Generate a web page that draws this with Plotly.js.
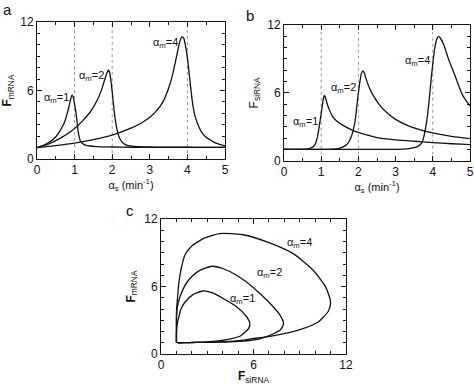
<!DOCTYPE html>
<html>
<head>
<meta charset="utf-8">
<script src="https://cdn.plot.ly/plotly-3.0.1.min.js"></script>
<style>html,body{margin:0;padding:0;background:#fff;}#chart{width:474px;height:385px;}</style>
</head>
<body>
<div id="chart"></div>
<script>
// alpha_m values (also positions of dotted reference lines)
const alphaM = [1, 2, 4];

// alpha_m = 1
const s1     = [0, 0.2, 0.4, 0.5, 0.6, 0.7, 0.75, 0.8, 0.85, 0.9, 0.93, 0.96, 1.0, 1.03, 1.06, 1.08, 1.1, 1.15, 1.2, 1.3, 1.4, 1.6, 1.8, 2.0, 2.5, 3.0, 3.5, 4.0, 4.5, 5.0, 6, 8, 12];
const mrna1  = [1.0, 1.25, 1.65, 1.95, 2.4, 3.0, 3.4, 3.95, 4.6, 5.3, 5.6, 5.45, 4.8, 4.2, 3.4, 2.8, 2.3, 1.6, 1.38, 1.2, 1.14, 1.09, 1.06, 1.05, 1.03, 1.02, 1.02, 1.01, 1.01, 1.01, 1.0, 1.0, 1.0];
const sirna1 = [1.0, 1.0, 1.0, 1.01, 1.03, 1.1, 1.18, 1.28, 1.55, 2.1, 2.7, 3.3, 4.2, 4.9, 5.5, 5.75, 5.7, 5.15, 4.65, 3.95, 3.55, 3.1, 2.75, 2.5, 2.05, 1.85, 1.72, 1.6, 1.5, 1.43, 1.3, 1.15, 1.05];

// alpha_m = 2
const s2     = [0, 0.3, 0.6, 0.9, 1.2, 1.4, 1.5, 1.6, 1.7, 1.75, 1.8, 1.85, 1.9, 1.93, 1.96, 2.0, 2.04, 2.08, 2.12, 2.16, 2.2, 2.3, 2.4, 2.6, 2.8, 3.0, 3.3, 3.6, 4.0, 4.5, 5.0, 6, 8, 12];
const mrna2  = [1.0, 1.3, 1.78, 2.4, 3.3, 4.05, 4.55, 5.15, 5.9, 6.4, 6.95, 7.45, 7.8, 7.6, 7.0, 5.9, 4.6, 3.5, 2.7, 2.15, 1.8, 1.35, 1.2, 1.1, 1.06, 1.05, 1.04, 1.03, 1.03, 1.02, 1.02, 1.01, 1.0, 1.0];
const sirna2 = [1.0, 1.0, 1.0, 1.0, 1.01, 1.05, 1.12, 1.25, 1.48, 1.7, 2.05, 2.55, 3.3, 4.0, 4.9, 6.0, 7.0, 7.7, 7.95, 7.75, 7.3, 6.4, 5.75, 4.8, 4.15, 3.65, 3.15, 2.8, 2.45, 2.15, 1.96, 1.65, 1.35, 1.1];

// alpha_m = 4
const s4     = [0, 0.5, 1.0, 1.5, 2.0, 2.5, 2.8, 3.0, 3.2, 3.35, 3.5, 3.6, 3.7, 3.75, 3.8, 3.85, 3.9, 3.95, 4.0, 4.05, 4.1, 4.15, 4.2, 4.3, 4.4, 4.5, 4.6, 4.7, 4.8, 4.9, 5.0, 5.3, 5.6, 6, 7, 8, 10, 12];
const mrna4  = [1.0, 1.18, 1.4, 1.7, 2.1, 2.7, 3.2, 3.65, 4.3, 5.0, 6.2, 7.3, 8.8, 9.6, 10.3, 10.7, 10.6, 9.9, 8.9, 7.4, 5.9, 4.6, 3.8, 2.85, 2.25, 1.9, 1.68, 1.48, 1.34, 1.23, 1.16, 1.08, 1.05, 1.03, 1.02, 1.01, 1.0, 1.0];
const sirna4 = [1.0, 1.0, 1.0, 1.0, 1.0, 1.0, 1.0, 1.0, 1.03, 1.07, 1.15, 1.27, 1.55, 2.0, 2.8, 3.8, 5.3, 7.0, 8.6, 9.9, 10.7, 11.0, 10.85, 10.2, 9.2, 8.3, 7.5, 6.6, 5.8, 5.3, 4.85, 3.8, 3.1, 2.6, 1.9, 1.55, 1.2, 1.1];

const sets = [
  {m: alphaM[0], s: s1, mr: mrna1, si: sirna1},
  {m: alphaM[1], s: s2, mr: mrna2, si: sirna2},
  {m: alphaM[2], s: s4, mr: mrna4, si: sirna4}
];

const lineStyle = {color: '#111', width: 1.3, shape: 'spline', smoothing: 0.6};
const traces = [];
sets.forEach(d => {
  traces.push({x: d.s, y: d.mr, xaxis: 'x', yaxis: 'y', mode: 'lines', line: lineStyle});
  traces.push({x: d.s, y: d.si, xaxis: 'x2', yaxis: 'y2', mode: 'lines', line: lineStyle});
  traces.push({x: d.si, y: d.mr, xaxis: 'x3', yaxis: 'y3', mode: 'lines', line: lineStyle});
});

const W = 474, H = 385;
const font = {family: 'Liberation Sans, Arial, sans-serif', size: 12, color: '#111'};

function ax(domain, range, dtick, minorDtick, anchor) {
  return {
    domain: domain, range: range, dtick: dtick, tick0: 0, anchor: anchor,
    showline: true, linecolor: '#111', linewidth: 1, mirror: 'allticks',
    ticks: 'inside', ticklen: 5, tickwidth: 1, tickcolor: '#111',
    minor: {dtick: minorDtick, ticks: 'inside', ticklen: 3, tickcolor: '#111', showgrid: false},
    showgrid: false, zeroline: false, tickfont: {family: font.family, size: 12, color: '#111'}
  };
}

const layout = {
  width: W, height: H,
  margin: {l: 0, r: 0, t: 0, b: 0},
  paper_bgcolor: '#fff', plot_bgcolor: '#fff',
  showlegend: false, hovermode: false,
  font: font,
  xaxis: Object.assign(ax([37/W, 225/W], [0, 5], 1, 0.5, 'y'), {
    title: {text: 'α<sub>s</sub> (min<sup>-1</sup>)', font: {size: 11}, standoff: 4}}),
  yaxis: Object.assign(ax([1-159/H, 1-22/H], [0, 12], 6, 1, 'x'), {
    title: {text: '<b>F</b><sub>mRNA</sub>', font: {size: 12}, standoff: 6}}),
  xaxis2: Object.assign(ax([284/W, 470/W], [0, 5], 1, 0.5, 'y2'), {
    title: {text: 'α<sub>s</sub> (min<sup>-1</sup>)', font: {size: 11}, standoff: 4}}),
  yaxis2: Object.assign(ax([1-160.7/H, 1-25/H], [0, 12], 6, 1, 'x2'), {
    title: {text: 'F<sub>siRNA</sub>', font: {size: 12}, standoff: 6}}),
  xaxis3: Object.assign(ax([161/W, 346/W], [0, 12], 6, 1, 'y3'), {
    title: {text: '<b>F</b><sub>siRNA</sub>', font: {size: 12}, standoff: 2}}),
  yaxis3: Object.assign(ax([1-354/H, 1-219/H], [0, 12], 6, 1, 'x3'), {
    title: {text: '<b>F</b><sub>mRNA</sub>', font: {size: 12}, standoff: 6}}),
  shapes: [],
  annotations: []
};

// dotted reference lines at alpha_s = alpha_m in panels a and b
alphaM.forEach(m => {
  ['x', 'x2'].forEach((xr, i) => {
    layout.shapes.push({type: 'line', xref: xr, yref: (i === 0 ? 'y' : 'y2') + ' domain',
      x0: m, x1: m, y0: 0, y1: 1, layer: 'below',
      line: {color: '#999', width: 1, dash: 'dot'}});
  });
});

function lab(text, xr, yr, x, y) {
  layout.annotations.push({text: text, xref: xr, yref: yr, x: x, y: y,
    xanchor: 'left', yanchor: 'middle', showarrow: false,
    font: {family: font.family, size: 11, color: '#111'}});
}
const labels = alphaM.map(m => 'α<sub>m</sub>=' + m);
// panel a
lab(labels[0], 'x', 'y', 0.12, 5.34);
lab(labels[1], 'x', 'y', 1.06, 7.27);
lab(labels[2], 'x', 'y', 3.02, 10.16);
// panel b
lab(labels[0], 'x2', 'y2', 0.2, 3.42);
lab(labels[1], 'x2', 'y2', 1.2, 6.43);
lab(labels[2], 'x2', 'y2', 3.21, 8.82);
// panel c
lab(labels[0], 'x3', 'y3', 4.35, 4.89);
lab(labels[1], 'x3', 'y3', 6.1, 7.2);
lab(labels[2], 'x3', 'y3', 8.04, 9.87);

// panel letters
function letter(t, px, py) {
  layout.annotations.push({text: t, xref: 'paper', yref: 'paper', x: px / W, y: 1 - py / H,
    xanchor: 'left', yanchor: 'middle', showarrow: false,
    font: {family: font.family, size: 15, color: '#111'}});
}
letter('a', 1, 9);
letter('b', 244, 15);
letter('c', 124, 211);

Plotly.newPlot('chart', traces, layout, {displayModeBar: false});
</script>
</body>
</html>
